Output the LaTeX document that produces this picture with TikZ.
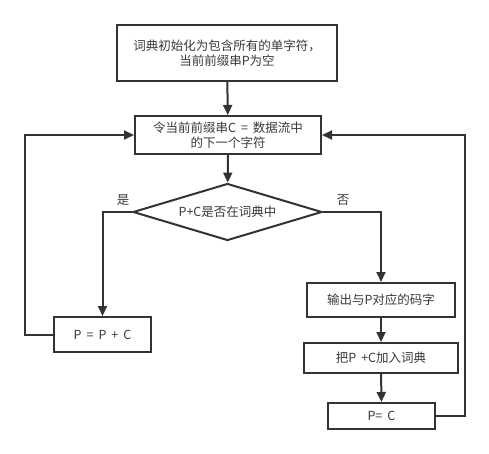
\documentclass[tikz,border=0pt]{standalone}
\usepackage{fontspec}
\setmainfont{Noto Sans CJK SC}[WordSpace=1.8]
\usetikzlibrary{shapes.geometric,arrows.meta}
\definecolor{ln}{HTML}{333333}
\definecolor{tx}{HTML}{3A3A3A}
\begin{document}
\begin{tikzpicture}[x=1pt,y=-1pt,
  box/.style={draw=ln,line width=2pt,fill=white,inner sep=0pt,align=center,text=tx,font=\fontsize{12.5}{15.5}\selectfont},
  dia/.style={diamond,draw=ln,line width=2pt,fill=white,inner sep=0pt,aspect=3.3,text=tx,font=\fontsize{12.5}{15.5}\selectfont},
  lbl/.style={text=tx,font=\fontsize{12.5}{15.5}\selectfont,inner sep=0pt},
  conn/.style={draw=ln,line width=2pt,-{Triangle[length=10pt,width=9pt]}},
  plain/.style={draw=ln,line width=2pt}]
\useasboundingbox (0,0) rectangle (489,453);
\node[box,minimum width=220pt,minimum height=56pt] (init) at (227,53) {词典初始化为包含所有的单字符，\\当前前缀串P为空};
\node[box,minimum width=186pt,minimum height=38pt] (loop) at (228,135) {令当前前缀串C = 数据流中\\的下一个字符};
\node[dia,minimum width=189pt,minimum height=57pt] (cond) at (227.5,212) {P+C是否在词典中};
\node[lbl] (yes) at (123,200) {是};
\node[lbl] (no) at (343,200) {否};
\node[box,minimum width=97pt,minimum height=35pt] (ppc) at (102.5,334.5) {P = P + C};
\node[box,minimum width=148pt,minimum height=34pt] (out) at (381,300) {输出与P对应的码字};
\node[box,minimum width=154pt,minimum height=30pt] (add) at (381,358) {把P +C加入词典};
\node[box,minimum width=107pt,minimum height=26pt] (pc) at (381.5,416) {P= C};
\coordinate (L) at (25,334.5);
\coordinate (R) at (465,416);
\draw[conn] (init) -- (loop);
\draw[conn] (loop) -- (cond);
\draw[conn] (cond.west) -| (ppc.north);
\draw[conn] (cond.east) -| (out.north);
\draw[conn] (out) -- (add);
\draw[conn] (add) -- (pc);
\draw[conn] (ppc.west) -- (L) |- (loop.west);
\draw[conn] (pc.east) -- (R) |- (loop.east);
\end{tikzpicture}
\end{document}
